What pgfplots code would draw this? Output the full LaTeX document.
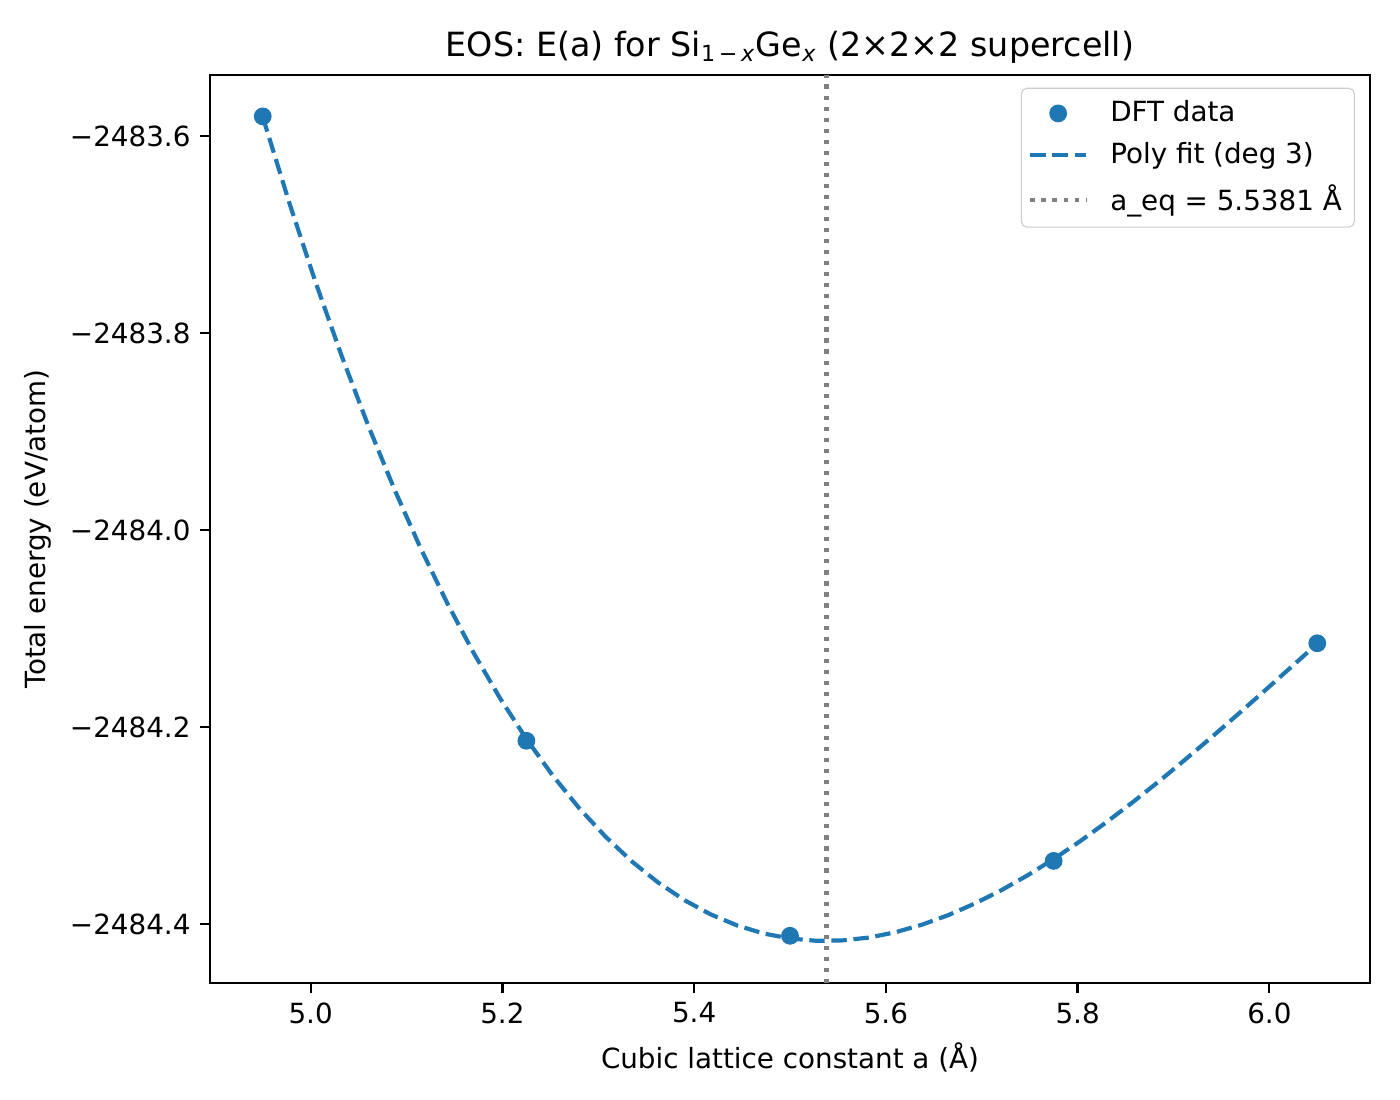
\documentclass[border=0pt]{standalone}
\usepackage{fontspec}
\setmainfont{DejaVu Sans}
\usepackage{pgfplots}
\pgfplotsset{compat=1.18}
\definecolor{tabblue}{HTML}{1F77B4}
\pgfplotsset{
  mylinelegend/.style={legend image code/.code={\draw[##1] (0pt,0pt) -- (20pt,0pt); \path (26pt,0pt);}},
  mymarklegend/.style={legend image code/.code={\draw[##1] plot coordinates {(10pt,0pt)}; \path (0pt,0pt) (26pt,0pt);}},
}
\begin{document}
\begin{tikzpicture}
\begin{axis}[
  scale only axis, width=417.6pt, height=326.9pt,
  xmin=4.895, xmax=6.105, ymin=-2484.46, ymax=-2483.538,
  axis line style={line width=0.8pt},
  tick style={black, line width=0.8pt}, tick align=outside, major tick length=3.5pt,
  xtick pos=lower, ytick pos=left,
  xtick={5.0,5.2,5.4,5.6,5.8,6.0}, xticklabels={5.0,5.2,5.4,5.6,5.8,6.0},
  ytick={-2484.4,-2484.2,-2484.0,-2483.8,-2483.6},
  yticklabels={−2484.4,−2484.2,−2484.0,−2483.8,−2483.6},
  ticklabel style={font=\fontsize{10}{12}\selectfont},
  label style={font=\fontsize{10}{12}\selectfont},
  xlabel={Cubic lattice constant a (Å)},
  ylabel={Total energy (eV/atom)},
  title={EOS: E(a) for Si\textsubscript{1\,−\,\textit{x}}Ge\textsubscript{\textit{x}} (2×2×2 supercell)},
  title style={font=\fontsize{12}{14}\selectfont, yshift=-5.5pt},
  legend style={at={(0.987,0.986)}, anchor=north east, draw=black!20, rounded corners=2pt,
    font=\fontsize{10}{12}\selectfont, row sep=2pt, inner sep=2.5pt},
  legend cell align=left,
]
\addplot[only marks, mark=*, mark size=3pt, color=tabblue, mymarklegend]
  coordinates {(4.95,-2483.580) (5.225,-2484.214) (5.5,-2484.412) (5.775,-2484.336) (6.05,-2484.115)};
\addlegendentry{DFT data}
\addplot[no marks, tabblue, line width=1.5pt, dash pattern=on 5.55pt off 2.4pt, mylinelegend]
  table {
x y
4.95 -2483.5805
4.9775 -2483.6671
5.005 -2483.7481
5.0325 -2483.8237
5.06 -2483.8939
5.0875 -2483.9590
5.115 -2484.0191
5.1425 -2484.0743
5.17 -2484.1248
5.1975 -2484.1707
5.225 -2484.2121
5.2525 -2484.2493
5.28 -2484.2823
5.3075 -2484.3113
5.335 -2484.3365
5.3625 -2484.3580
5.39 -2484.3759
5.4175 -2484.3904
5.445 -2484.4016
5.4725 -2484.4097
5.5 -2484.4148
5.5275 -2484.4171
5.555 -2484.4167
5.5825 -2484.4138
5.61 -2484.4084
5.6375 -2484.4008
5.665 -2484.3911
5.6925 -2484.3794
5.72 -2484.3660
5.7475 -2484.3508
5.775 -2484.3341
5.8025 -2484.3161
5.83 -2484.2967
5.8575 -2484.2764
5.885 -2484.2551
5.9125 -2484.2329
5.94 -2484.2102
5.9675 -2484.1869
5.995 -2484.1633
6.0225 -2484.1394
6.05 -2484.1155
};
\addlegendentry{Poly fit (deg 3)}
\addplot[no marks, gray, line width=1.5pt, dash pattern=on 1.5pt off 2.475pt, mylinelegend]
  coordinates {(5.5381,-2484.46) (5.5381,-2483.538)};
\addlegendentry{a\_eq = 5.5381 Å}
\end{axis}
\pgfresetboundingbox
\path (-75.6pt,-42.1pt) rectangle (428.4pt,353.9pt);
\end{tikzpicture}
\end{document}
